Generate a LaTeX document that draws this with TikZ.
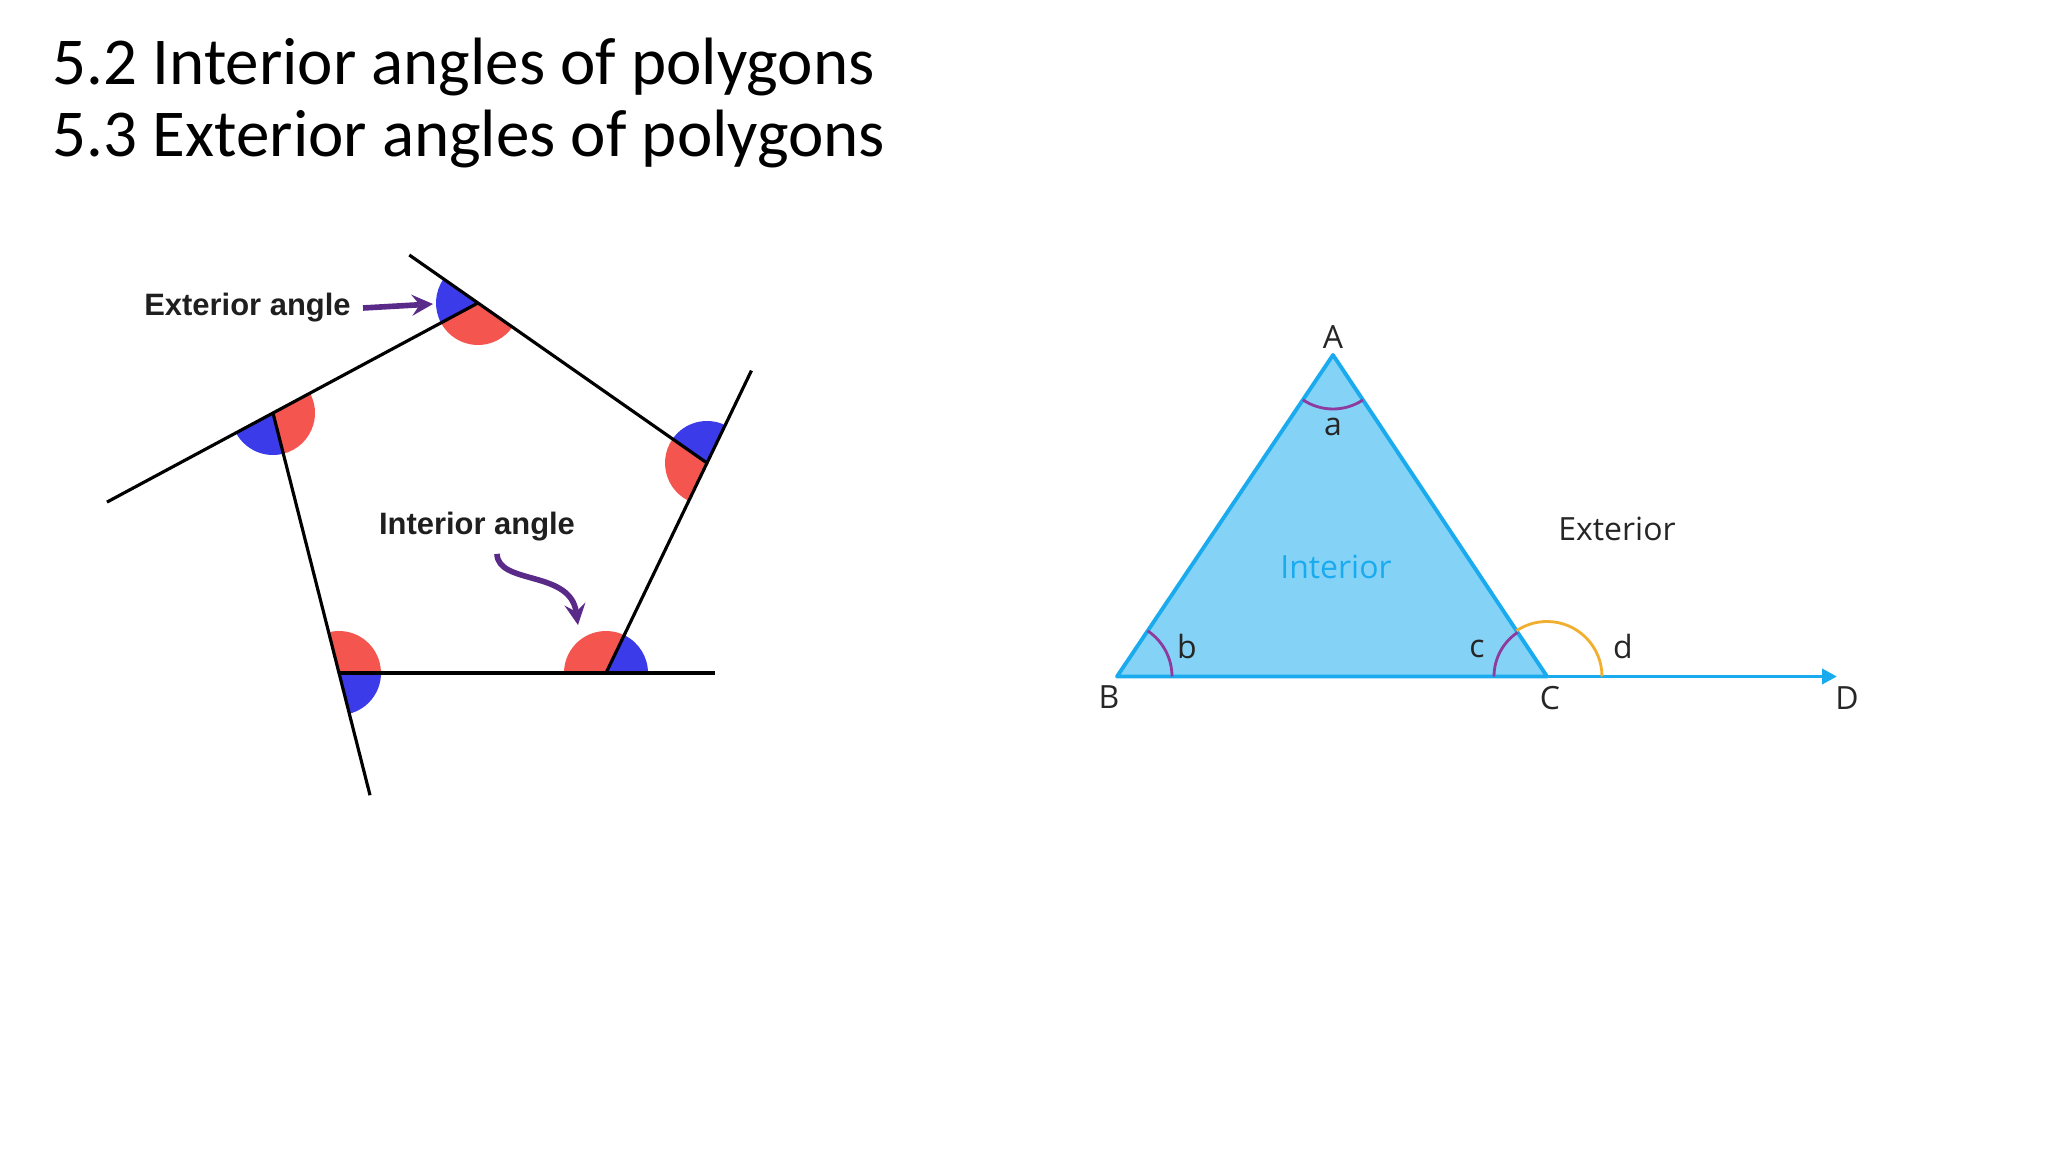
\documentclass[tikz,border=0pt]{standalone}
\usepackage{fontspec}
\setmainfont{Carlito}
\newfontfamily\labelfont{Liberation Sans}
\newfontfamily\trifont{Open Sans}
\usepackage{xcolor}
\usepackage{tikz}
\usetikzlibrary{positioning,calc,arrows,arrows.meta}
\definecolor{wedgered}{HTML}{F4554F}
\definecolor{wedgeblue}{HTML}{3B3BEA}
\definecolor{pointerpurple}{HTML}{5A2A88}
\definecolor{skyline}{HTML}{1AABEF}
\definecolor{skyfill}{HTML}{84D3F7}
\definecolor{arcpurple}{HTML}{8E3A9E}
\definecolor{arcorange}{HTML}{F2AE2E}
\tikzset{
    heading/.style={
        anchor=base west,
        inner sep=0pt,
        font=\fontsize{19.06pt}{21pt}\selectfont
    },
    side/.style={
        draw=black,
        line width=0.9pt
    },
    pointer/.style={
        ->,
        >=stealth,
        draw=pointerpurple,
        line width=1.6pt
    }
}
\tikzstyle{redwedge} = [fill=wedgered]
\tikzstyle{bluewedge} = [fill=wedgeblue]
\tikzstyle{lbl} = [font=\labelfont\bfseries\fontsize{8.8pt}{10pt}\selectfont, text=black!88]
\tikzstyle{trilbl} = [font=\trifont\fontsize{9.1pt}{11pt}\selectfont, text=black!85]
\tikzstyle{tri} = [draw=skyline, fill=skyfill, line width=1.1pt, line join=round]
\tikzstyle{ray} = [draw=skyline, line width=1.1pt, -{Triangle[length=0.15cm,width=0.15cm]}]
\tikzstyle{anglearc} = [draw=arcpurple, line width=0.8pt]
\tikzstyle{extarc} = [draw=arcorange, line width=0.8pt]

\begin{document}
\begin{tikzpicture}
          \useasboundingbox (0,0) rectangle (20.48,-11.52);
          \node (title1) [heading] at (0.52,-0.85) {5.2 Interior angles of polygons};
          \node (title2) [heading] at (0.52,-1.567) {5.3 Exterior angles of polygons};
          % pentagon
          \coordinate (v1) at (4.78,-3.03);
          \coordinate (v2) at (2.73,-4.13);
          \coordinate (v3) at (3.39,-6.73);
          \coordinate (v4) at (6.06,-6.73);
          \coordinate (v5) at (7.07,-4.63);
          \coordinate (e1) at ($(v5)!1.30!(v1)$);
          \coordinate (e2) at ($(v1)!1.81!(v2)$);
          \coordinate (e3) at ($(v2)!1.47!(v3)$);
          \coordinate (e4) at ($(v3)!1.41!(v4)$);
          \coordinate (e5) at ($(v4)!1.44!(v5)$);
          \foreach \v/\din/\dout in {v1/145.1/208.2, v2/208.2/284.2, v3/284.2/360, v4/0/64.3, v5/64.3/145.1} {
              \pgfmathsetmacro{\dback}{\din+180}
              \fill[bluewedge] (\v) -- ++(\din:0.42) arc[start angle=\din, end angle=\dout, radius=0.42] -- cycle;
              \fill[redwedge] (\v) -- ++(\dout:0.42) arc[start angle=\dout, end angle=\dback, radius=0.42] -- cycle;
          }
          \foreach \a/\b in {v5/e1, v1/e2, v2/e3, v3/e4, v4/e5}
              \draw[side] (\a) -- (\b);
          \node (extlabel) [lbl] at (2.475,-3.08) {Exterior angle};
          \coordinate (exttip) at (4.33,-3.04);
          \draw[pointer] (extlabel.east) -- (exttip);
          \node (intlabel) [lbl] at (4.77,-5.27) {Interior angle};
          \coordinate (inttip) at (5.78,-6.25);
          \draw[pointer] ([xshift=0.2cm]intlabel.south) .. controls (4.98,-5.85) and (5.70,-5.70) .. (inttip);
          % triangle
          \coordinate (A) at (13.33,-3.55);
          \coordinate (B) at (11.17,-6.765);
          \coordinate (C) at (15.47,-6.765);
          \coordinate (D) at (18.37,-6.765);
          \filldraw[tri] (A) -- (B) -- (C) -- cycle;
          \draw[ray] (C) -- (D);
          \draw[anglearc] (A) ++(236.1:0.54) arc[start angle=236.1, end angle=303.6, radius=0.54];
          \draw[anglearc] (B) ++(0:0.55) arc[start angle=0, end angle=56.1, radius=0.55];
          \draw[anglearc] (C) ++(123.6:0.53) arc[start angle=123.6, end angle=180, radius=0.53];
          \draw[extarc] (C) ++(0:0.55) arc[start angle=0, end angle=123.6, radius=0.55];
          \node (labA) [trilbl] at (13.33,-3.37) {A};
          \node (labB) [trilbl] at (11.09,-6.97) {B};
          \node (labC) [trilbl] at (15.50,-6.98) {C};
          \node (labD) [trilbl] at (18.47,-6.98) {D};
          \node (anga) [trilbl] at (13.33,-4.27) {a};
          \node (angb) [trilbl] at (11.87,-6.47) {b};
          \node (angc) [trilbl] at (14.77,-6.49) {c};
          \node (angd) [trilbl] at (16.23,-6.47) {d};
          \node (inside) [trilbl, text=skyline] at (13.36,-5.67) {Interior};
          \node (outside) [trilbl] at (16.17,-5.29) {Exterior};
        \end{tikzpicture}
\end{document}
